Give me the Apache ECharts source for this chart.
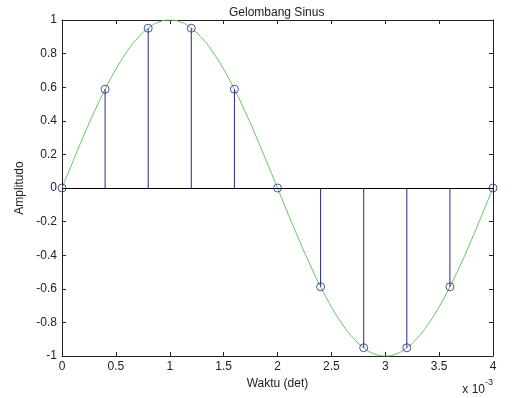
<!DOCTYPE html>
<html>
<head>
<meta charset="utf-8">
<script src="https://cdn.jsdelivr.net/npm/echarts@6/dist/echarts.min.js"></script>
<style>
html, body { margin: 0; padding: 0; background: #fff; }
#chart { width: 515px; height: 398px; }
</style>
</head>
<body>
<div id="chart"></div>
<script>
// waktu dalam satuan 10^-3 detik
var curveT = [0, 0.1, 0.2, 0.3, 0.4, 0.5, 0.6, 0.7, 0.8, 0.9, 1.0, 1.1, 1.2, 1.3, 1.4, 1.5, 1.6, 1.7, 1.8, 1.9, 2.0,
    2.1, 2.2, 2.3, 2.4, 2.5, 2.6, 2.7, 2.8, 2.9, 3.0, 3.1, 3.2, 3.3, 3.4, 3.5, 3.6, 3.7, 3.8, 3.9, 4.0];
var curveY = [0, 0.156, 0.309, 0.454, 0.588, 0.707, 0.809, 0.891, 0.951, 0.988, 1, 0.988, 0.951, 0.891, 0.809, 0.707, 0.588, 0.454, 0.309, 0.156, 0,
    -0.156, -0.309, -0.454, -0.588, -0.707, -0.809, -0.891, -0.951, -0.988, -1, -0.988, -0.951, -0.891, -0.809, -0.707, -0.588, -0.454, -0.309, -0.156, 0];
var sampleT = [0, 0.4, 0.8, 1.2, 1.6, 2.0, 2.4, 2.8, 3.2, 3.6, 4.0];
var sampleY = [0, 0.588, 0.951, 0.951, 0.588, 0, -0.588, -0.951, -0.951, -0.588, 0];

var axisColor = '#222';
var font = 'Liberation Sans, Arial, sans-serif';

var chart = echarts.init(document.getElementById('chart'));

function pairs(xs, ys) {
    return xs.map(function (x, i) { return [x, ys[i]]; });
}

var hiddenAxis = {
    axisLine: { show: true, onZero: false, lineStyle: { color: axisColor, width: 1 } },
    axisTick: { show: true, inside: true, length: 4, lineStyle: { color: axisColor } },
    axisLabel: { show: false },
    splitLine: { show: false }
};

var option = {
    animation: false,
    backgroundColor: '#fff',
    title: {
        text: 'Gelombang Sinus',
        left: 224,
        top: 2,
        textStyle: { fontFamily: font, fontSize: 12, fontWeight: 'normal', color: axisColor }
    },
    grid: { left: 62, right: 22, top: 20, bottom: 42 },
    xAxis: [
        {
            type: 'value', min: 0, max: 4, interval: 0.5, position: 'bottom',
            name: 'Waktu (det)', nameLocation: 'middle', nameGap: 21,
            nameTextStyle: { fontFamily: font, fontSize: 12, color: axisColor },
            axisLine: { onZero: false, lineStyle: { color: axisColor, width: 1 } },
            axisTick: { inside: true, length: 4, lineStyle: { color: axisColor } },
            axisLabel: { fontFamily: font, fontSize: 12, color: axisColor, margin: 5 },
            splitLine: { show: false }
        },
        Object.assign({ type: 'value', min: 0, max: 4, interval: 0.5, position: 'top' }, hiddenAxis)
    ],
    yAxis: [
        {
            type: 'value', min: -1, max: 1, interval: 0.2, position: 'left',
            name: 'Amplitudo', nameLocation: 'middle', nameGap: 34, nameRotate: 90,
            nameTextStyle: { fontFamily: font, fontSize: 12, color: axisColor },
            axisLine: { show: true, onZero: false, lineStyle: { color: axisColor, width: 1 } },
            axisTick: { show: true, inside: true, length: 4, lineStyle: { color: axisColor } },
            axisLabel: { fontFamily: font, fontSize: 12, color: axisColor, margin: 5 },
            splitLine: { show: false }
        },
        Object.assign({ type: 'value', min: -1, max: 1, interval: 0.2, position: 'right' }, hiddenAxis)
    ],
    graphic: [{
        type: 'text',
        right: 22,
        top: 378,
        style: {
            text: '{a|x 10}{b|-3}',
            rich: {
                a: { fontFamily: font, fontSize: 12, fill: axisColor, padding: [6, 0, 0, 0] },
                b: { fontFamily: font, fontSize: 9, fill: axisColor, verticalAlign: 'top' }
            }
        }
    }],
    series: [
        {
            name: 'sinus',
            type: 'line',
            data: pairs(curveT, curveY),
            showSymbol: false,
            smooth: true,
            lineStyle: { color: '#62c462', width: 1 },
            z: 1
        },
        {
            name: 'sampel',
            type: 'bar',
            data: pairs(sampleT, sampleY),
            barWidth: 1,
            itemStyle: { color: '#27278c' },
            markLine: {
                silent: true,
                symbol: 'none',
                label: { show: false },
                lineStyle: { color: '#000', width: 1, type: 'solid' },
                data: [{ yAxis: 0 }]
            },
            z: 2
        },
        {
            name: 'titik',
            type: 'scatter',
            data: pairs(sampleT, sampleY),
            symbol: 'circle',
            symbolSize: 8,
            itemStyle: { color: 'rgba(0,0,0,0)', borderColor: '#27278c', borderWidth: 1 },
            z: 3
        }
    ]
};

chart.setOption(option);
window.addEventListener('resize', function () {
    chart.resize();
});
</script>
</body>
</html>
